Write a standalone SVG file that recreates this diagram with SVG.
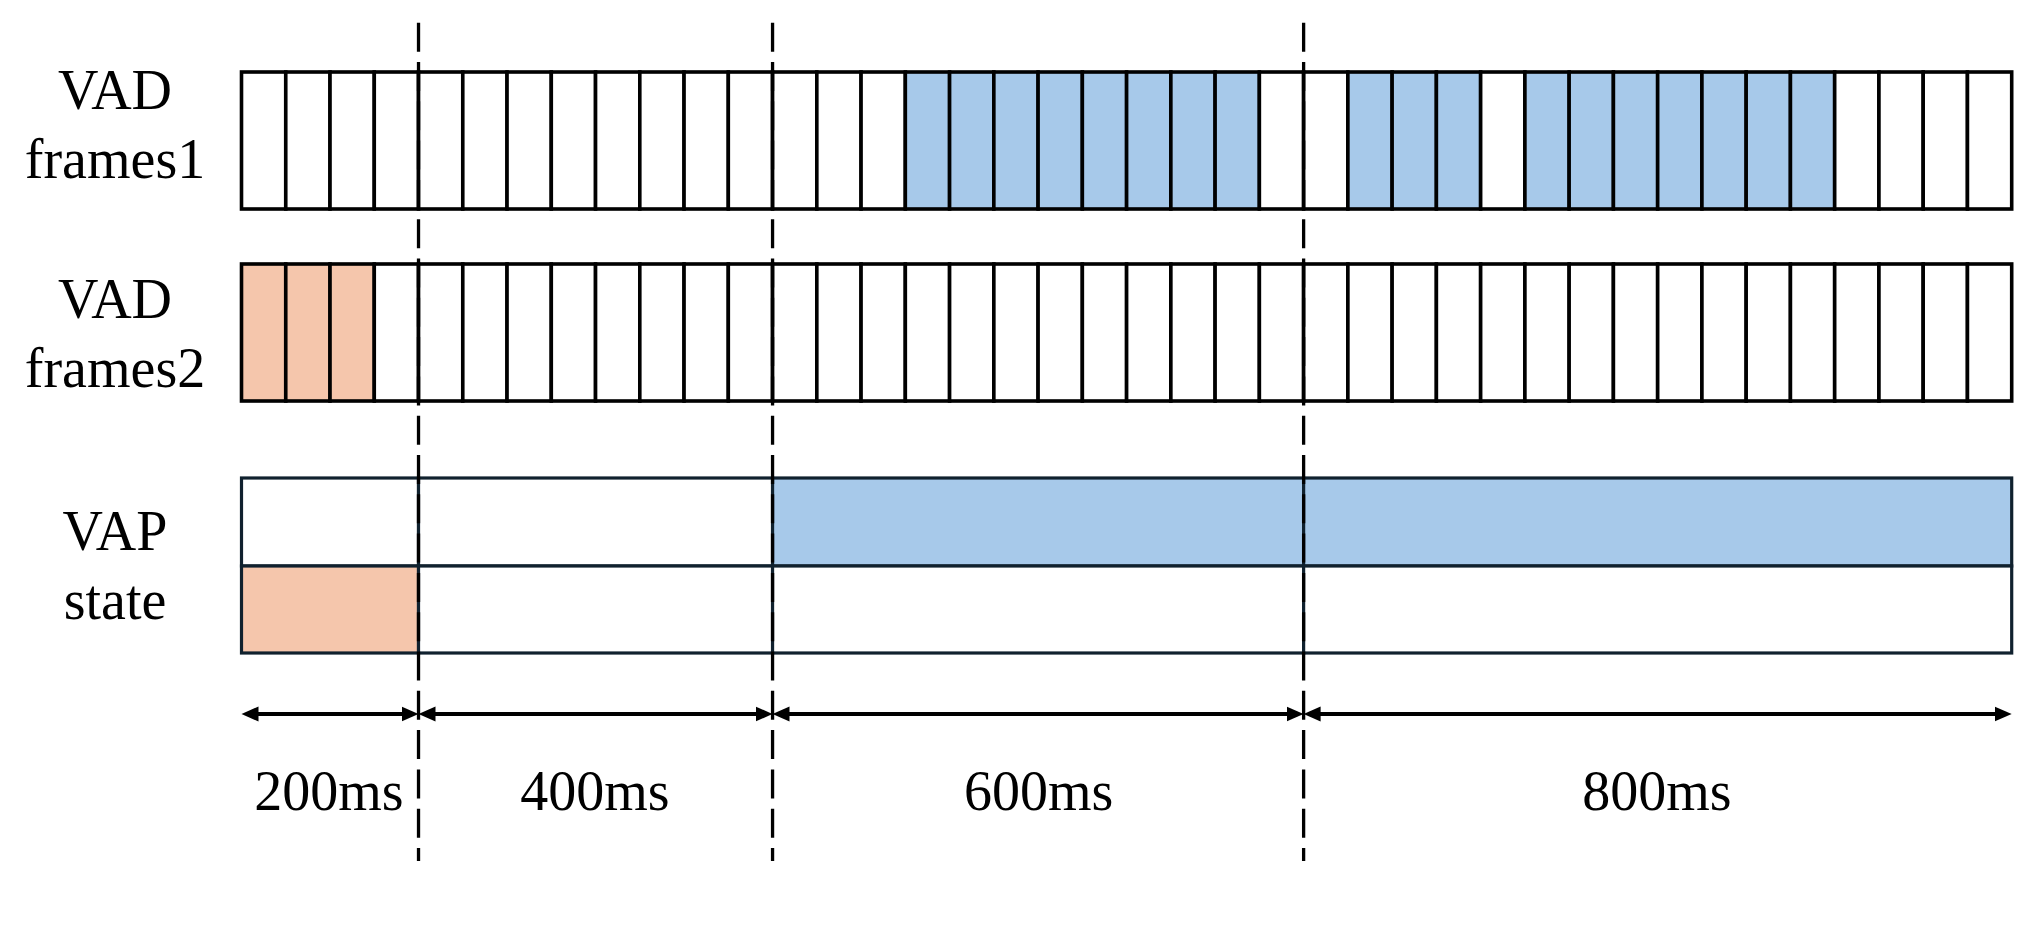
<svg xmlns="http://www.w3.org/2000/svg" width="2025" height="944" viewBox="0 0 2025 944">
<style>
text{font-family:"Liberation Serif","Times New Roman",serif;font-size:56px;fill:#000;text-anchor:middle}
.c{fill:#fff;stroke:#000;stroke-width:3.6}
.b{fill:#A7C9EA;stroke:#000;stroke-width:3.6}
.p{fill:#F5C6AC;stroke:#000;stroke-width:3.6}
.vw{fill:#fff;stroke:#10212e;stroke-width:3.2}
.vb{fill:#A7C9EA;stroke:#10212e;stroke-width:3.2}
.vp{fill:#F5C6AC;stroke:#10212e;stroke-width:3.2}
.dash{stroke:#000;stroke-width:3.3;stroke-dasharray:29 10.3;fill:none}
.arr{stroke:#000;stroke-width:4.2;fill:none;marker-start:url(#ah);marker-end:url(#ah)}
</style>
<defs>
<marker id="ah" markerUnits="userSpaceOnUse" markerWidth="18" markerHeight="16" viewBox="0 0 18 16" refX="7" refY="8" orient="auto-start-reverse">
<path d="M0,0.5 L17,8 L0,15.5 z" fill="#000"/>
</marker>
</defs>
<rect width="2025" height="944" fill="#fff"/>

<g id="labels">
<text x="115" y="109">VAD</text>
<text x="115" y="178">frames1</text>
<text x="115" y="318">VAD</text>
<text x="115" y="387">frames2</text>
<text x="115" y="550">VAP</text>
<text x="115" y="619">state</text>
</g>

<g id="vad-frames1">
<rect class="c" x="241.50" y="72" width="44.26" height="137"/>
<rect class="c" x="285.76" y="72" width="44.26" height="137"/>
<rect class="c" x="330.01" y="72" width="44.26" height="137"/>
<rect class="c" x="374.27" y="72" width="44.26" height="137"/>
<rect class="c" x="418.52" y="72" width="44.26" height="137"/>
<rect class="c" x="462.78" y="72" width="44.26" height="137"/>
<rect class="c" x="507.03" y="72" width="44.26" height="137"/>
<rect class="c" x="551.29" y="72" width="44.26" height="137"/>
<rect class="c" x="595.54" y="72" width="44.26" height="137"/>
<rect class="c" x="639.80" y="72" width="44.26" height="137"/>
<rect class="c" x="684.05" y="72" width="44.26" height="137"/>
<rect class="c" x="728.31" y="72" width="44.26" height="137"/>
<rect class="c" x="772.56" y="72" width="44.26" height="137"/>
<rect class="c" x="816.82" y="72" width="44.26" height="137"/>
<rect class="c" x="861.07" y="72" width="44.26" height="137"/>
<rect class="b" x="905.33" y="72" width="44.26" height="137"/>
<rect class="b" x="949.58" y="72" width="44.26" height="137"/>
<rect class="b" x="993.84" y="72" width="44.26" height="137"/>
<rect class="b" x="1038.09" y="72" width="44.26" height="137"/>
<rect class="b" x="1082.35" y="72" width="44.26" height="137"/>
<rect class="b" x="1126.60" y="72" width="44.26" height="137"/>
<rect class="b" x="1170.86" y="72" width="44.26" height="137"/>
<rect class="b" x="1215.11" y="72" width="44.26" height="137"/>
<rect class="c" x="1259.37" y="72" width="44.26" height="137"/>
<rect class="c" x="1303.62" y="72" width="44.26" height="137"/>
<rect class="b" x="1347.88" y="72" width="44.26" height="137"/>
<rect class="b" x="1392.13" y="72" width="44.26" height="137"/>
<rect class="b" x="1436.39" y="72" width="44.26" height="137"/>
<rect class="c" x="1480.64" y="72" width="44.26" height="137"/>
<rect class="b" x="1524.90" y="72" width="44.26" height="137"/>
<rect class="b" x="1569.15" y="72" width="44.26" height="137"/>
<rect class="b" x="1613.41" y="72" width="44.26" height="137"/>
<rect class="b" x="1657.66" y="72" width="44.26" height="137"/>
<rect class="b" x="1701.92" y="72" width="44.26" height="137"/>
<rect class="b" x="1746.17" y="72" width="44.26" height="137"/>
<rect class="b" x="1790.43" y="72" width="44.26" height="137"/>
<rect class="c" x="1834.68" y="72" width="44.26" height="137"/>
<rect class="c" x="1878.94" y="72" width="44.26" height="137"/>
<rect class="c" x="1923.19" y="72" width="44.26" height="137"/>
<rect class="c" x="1967.45" y="72" width="44.25" height="137"/>
</g>

<g id="vad-frames2">
<rect class="p" x="241.50" y="264" width="44.26" height="137"/>
<rect class="p" x="285.76" y="264" width="44.26" height="137"/>
<rect class="p" x="330.01" y="264" width="44.26" height="137"/>
<rect class="c" x="374.27" y="264" width="44.26" height="137"/>
<rect class="c" x="418.52" y="264" width="44.26" height="137"/>
<rect class="c" x="462.78" y="264" width="44.26" height="137"/>
<rect class="c" x="507.03" y="264" width="44.26" height="137"/>
<rect class="c" x="551.29" y="264" width="44.26" height="137"/>
<rect class="c" x="595.54" y="264" width="44.26" height="137"/>
<rect class="c" x="639.80" y="264" width="44.26" height="137"/>
<rect class="c" x="684.05" y="264" width="44.26" height="137"/>
<rect class="c" x="728.31" y="264" width="44.26" height="137"/>
<rect class="c" x="772.56" y="264" width="44.26" height="137"/>
<rect class="c" x="816.82" y="264" width="44.26" height="137"/>
<rect class="c" x="861.07" y="264" width="44.26" height="137"/>
<rect class="c" x="905.33" y="264" width="44.26" height="137"/>
<rect class="c" x="949.58" y="264" width="44.26" height="137"/>
<rect class="c" x="993.84" y="264" width="44.26" height="137"/>
<rect class="c" x="1038.09" y="264" width="44.26" height="137"/>
<rect class="c" x="1082.35" y="264" width="44.26" height="137"/>
<rect class="c" x="1126.60" y="264" width="44.26" height="137"/>
<rect class="c" x="1170.86" y="264" width="44.26" height="137"/>
<rect class="c" x="1215.11" y="264" width="44.26" height="137"/>
<rect class="c" x="1259.37" y="264" width="44.26" height="137"/>
<rect class="c" x="1303.62" y="264" width="44.26" height="137"/>
<rect class="c" x="1347.88" y="264" width="44.26" height="137"/>
<rect class="c" x="1392.13" y="264" width="44.26" height="137"/>
<rect class="c" x="1436.39" y="264" width="44.26" height="137"/>
<rect class="c" x="1480.64" y="264" width="44.26" height="137"/>
<rect class="c" x="1524.90" y="264" width="44.26" height="137"/>
<rect class="c" x="1569.15" y="264" width="44.26" height="137"/>
<rect class="c" x="1613.41" y="264" width="44.26" height="137"/>
<rect class="c" x="1657.66" y="264" width="44.26" height="137"/>
<rect class="c" x="1701.92" y="264" width="44.26" height="137"/>
<rect class="c" x="1746.17" y="264" width="44.26" height="137"/>
<rect class="c" x="1790.43" y="264" width="44.26" height="137"/>
<rect class="c" x="1834.68" y="264" width="44.26" height="137"/>
<rect class="c" x="1878.94" y="264" width="44.26" height="137"/>
<rect class="c" x="1923.19" y="264" width="44.26" height="137"/>
<rect class="c" x="1967.45" y="264" width="44.25" height="137"/>
</g>

<g id="vap-state">
<rect class="vw" x="241.5" y="478" width="177.02" height="88"/>
<rect class="vw" x="418.52" y="478" width="354.04" height="88"/>
<rect class="vb" x="772.56" y="478" width="531.06" height="88"/>
<rect class="vb" x="1303.62" y="478" width="708.08" height="88"/>
<rect class="vp" x="241.5" y="566" width="177.02" height="87"/>
<rect class="vw" x="418.52" y="566" width="354.04" height="87"/>
<rect class="vw" x="772.56" y="566" width="531.06" height="87"/>
<rect class="vw" x="1303.62" y="566" width="708.08" height="87"/>
</g>

<g id="connectors">
<line class="dash" x1="418.52" y1="22.7" x2="418.52" y2="861"/>
<line class="dash" x1="772.56" y1="22.7" x2="772.56" y2="861"/>
<line class="dash" x1="1303.62" y1="22.7" x2="1303.62" y2="861"/>
<line class="arr" x1="251.5" y1="714" x2="408.5" y2="714"/>
<line class="arr" x1="428.5" y1="714" x2="762.5" y2="714"/>
<line class="arr" x1="782.5" y1="714" x2="1293.6" y2="714"/>
<line class="arr" x1="1313.6" y1="714" x2="2001.7" y2="714"/>
</g>

<g id="durations">
<text x="329" y="810">200ms</text>
<text x="595" y="810">400ms</text>
<text x="1038.6" y="810">600ms</text>
<text x="1657" y="810">800ms</text>
</g>
</svg>
